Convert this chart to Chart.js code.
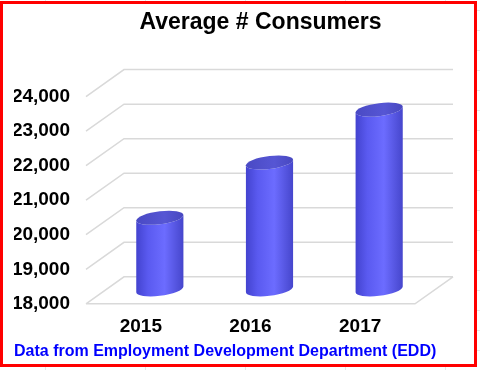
<!DOCTYPE html>
<html>
<head>
<meta charset="utf-8">
<script src="https://cdn.jsdelivr.net/npm/chart.js"></script>
<style>
  html, body { margin: 0; padding: 0; }
  body {
    width: 480px; height: 370px; position: relative; overflow: hidden; background: #fff;
    background-image: linear-gradient(to right, #e6e6e6 1px, transparent 1px), linear-gradient(to bottom, #e6e6e6 1px, transparent 1px);
    background-size: 100px 20px; background-position: 45px 10px;
  }
  #frame { position: absolute; left: 0; top: 1px; width: 477px; height: 366px; box-sizing: border-box; border: 3px solid #ff0000; background: #fff; }
  #myChart { position: absolute; left: 0; top: 0; }
</style>
</head>
<body>
<div id="frame"></div>
<canvas id="myChart" width="480" height="370"></canvas>
<script>
// data
const years = ['2015', '2016', '2017'];
const consumers = [20100, 21700, 23230];
const yMin = 18000;
const yMax = 24000;
const yStep = 1000;

// 3D look
const depthX = 38;
const depthY = 27;
const fontFamily = '"Liberation Sans", Arial, sans-serif';
const footerText = 'Data from Employment Development Department (EDD)';

// side wall, back wall and floor lines
const walls = {
    id: 'walls',
    beforeDatasetsDraw(chart) {
        const ctx = chart.ctx;
        const { left, right, bottom } = chart.chartArea;
        const y = chart.scales.y;
        ctx.save();
        ctx.strokeStyle = '#d9d9d9';
        ctx.lineWidth = 1.5;
        ctx.beginPath();
        y.ticks.forEach(t => {
            const py = y.getPixelForValue(t.value);
            ctx.moveTo(left, py);
            ctx.lineTo(left + depthX, py - depthY);
            ctx.lineTo(right + depthX, py - depthY);
        });
        ctx.moveTo(left, bottom);
        ctx.lineTo(right, bottom);
        ctx.lineTo(right + depthX, bottom - depthY);
        ctx.stroke();
        ctx.restore();
    }
};

// draw each bar as a cylinder sitting half way into the depth
const cylinders = {
    id: 'cylinders',
    afterDatasetsDraw(chart) {
        const ctx = chart.ctx;
        const meta = chart.getDatasetMeta(0);
        const ry = 6.5;
        const tilt = -0.12;
        meta.data.forEach(bar => {
            const rx = bar.width / 2;
            const yTop = bar.y - depthY / 2;
            const yBot = bar.base - depthY / 2 - 1;
            ctx.save();
            ctx.translate(bar.x + depthX / 2, 0);
            ctx.transform(1, tilt, 0, 1, 0, 0);

            const body = ctx.createLinearGradient(-rx, 0, rx, 0);
            body.addColorStop(0, '#4343cf');
            body.addColorStop(0.25, '#5a5af0');
            body.addColorStop(0.6, '#6c6cff');
            body.addColorStop(1, '#4646cc');
            ctx.fillStyle = body;
            ctx.beginPath();
            ctx.moveTo(-rx, yTop);
            ctx.lineTo(-rx, yBot);
            ctx.ellipse(0, yBot, rx, ry, 0, Math.PI, 0, true);
            ctx.lineTo(rx, yTop);
            ctx.ellipse(0, yTop, rx, ry, 0, 0, Math.PI, false);
            ctx.closePath();
            ctx.fill();

            const top = ctx.createLinearGradient(-rx, 0, rx, 0);
            top.addColorStop(0, '#4a4ac4');
            top.addColorStop(0.6, '#5656d4');
            top.addColorStop(1, '#4848c0');
            ctx.fillStyle = top;
            ctx.beginPath();
            ctx.ellipse(0, yTop, rx, ry, 0, 0, Math.PI * 2);
            ctx.fill();
            ctx.restore();
        });
    }
};

// move the title over the plot and give the footer the full width
const textBoxes = {
    id: 'textBoxes',
    afterLayout(chart) {
        if (chart.titleBlock) {
            chart.titleBlock.left += 46;
            chart.titleBlock.right += 46;
        }
        chart.boxes.forEach(box => {
            if (box.options && box.options.text === footerText) {
                box.right = chart.width - 10;
            }
        });
    }
};

const ctx = document.getElementById('myChart').getContext('2d');

new Chart(ctx, {
    type: 'bar',
    data: {
        labels: years,
        datasets: [{
            data: consumers,
            base: yMin,
            backgroundColor: 'transparent',
            borderWidth: 0,
            categoryPercentage: 1,
            barPercentage: 0.43
        }]
    },
    options: {
        responsive: false,
        animation: false,
        layout: { padding: { left: 14, right: 65, top: 0, bottom: 9 } },
        plugins: {
            legend: { display: false },
            tooltip: { enabled: false },
            title: {
                display: true,
                text: 'Average # Consumers',
                color: '#000',
                font: { family: fontFamily, size: 23, weight: 'bold' },
                padding: { top: 9, bottom: 60 }
            },
            subtitle: {
                display: true,
                position: 'bottom',
                align: 'start',
                text: footerText,
                color: '#0000ff',
                font: { family: fontFamily, size: 16, weight: 'bold' },
                padding: { top: 0, bottom: 0 }
            }
        },
        scales: {
            x: {
                grid: { display: false, drawTicks: false },
                border: { display: false },
                ticks: { color: '#000', padding: 12, font: { family: fontFamily, size: 19, weight: 'bold' } },
                afterFit(scale) { scale.height = 38; }
            },
            y: {
                min: yMin,
                max: yMax,
                grid: { display: false, drawTicks: false },
                border: { display: false },
                ticks: {
                    stepSize: yStep,
                    color: '#000',
                    padding: 16,
                    font: { family: fontFamily, size: 19, weight: 'bold' },
                    callback: v => v.toLocaleString('en-US')
                },
                afterFit(scale) { scale.width = 72; }
            }
        }
    },
    plugins: [walls, cylinders, textBoxes]
});
</script>
</body>
</html>
